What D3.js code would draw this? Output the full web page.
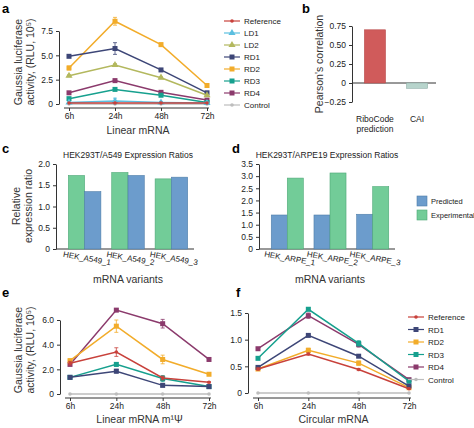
<!DOCTYPE html><html><head><meta charset="utf-8">
<script src="https://cdn.jsdelivr.net/npm/d3@7"></script>
<style>body{margin:0;background:#fff}svg{font-family:"Liberation Sans",Arial,sans-serif}</style></head><body>
<svg id="s" width="474" height="428"></svg>
<script>
const times=["6h","24h","48h","72h"];
const aNames=["Reference","LD1","LD2","RD1","RD2","RD3","RD4","Control"];
const aVals=[[0.1,0.1,0.1,0.1],[0.15,0.3,0.15,0.1],[2.9,4.0,2.7,0.9],[4.9,5.7,3.5,1.15],[3.7,8.5,6.1,1.9],[0.55,1.5,0.9,0.15],[1.15,2.4,1.2,0.4],[0,0,0,0]];
const aErr=[[0,0,0,0],[0.1,0.3,0.1,0],[0.1,0.15,0.1,0.05],[0.1,0.6,0.15,0.1],[0.2,0.4,0.15,0.15],[0.1,0.1,0.1,0],[0.1,0.15,0.1,0],[0,0,0,0]];
const aTicks=[0,2.5,5.0,7.5];
const bCats=["RiboCode\nprediction","CAI"];
const bVals=[0.70,-0.07];
const bTicks=[-0.25,0,0.25,0.50,0.75];
const cCats=["HEK_A549_1","HEK_A549_2","HEK_A549_3"];
const cExp=[1.73,1.80,1.65], cPred=[1.35,1.73,1.69];
const cTicks=[0,0.5,1.0,1.5,2.0];
const dCats=["HEK_ARPE_1","HEK_ARPE_2","HEK_ARPE_3"];
const dPred=[1.40,1.40,1.43], dExp=[2.92,3.13,2.57];
const dTicks=[0,0.5,1.0,1.5,2.0,2.5,3.0,3.5];
const eNames=["Reference","RD1","RD2","RD3","RD4","Control"];
const eVals=[[2.5,3.4,1.3,0.95],[1.35,1.85,0.7,0.6],[2.7,5.5,2.8,1.6],[1.35,2.4,1.25,0.6],[2.4,6.8,5.7,2.8],[0,0,0,0]];
const eErr=[[0.15,0.35,0.15,0.05],[0.1,0.15,0.1,0.05],[0.15,0.5,0.35,0.1],[0.1,0.15,0.25,0.1],[0.1,0.1,0.35,0.1],[0,0,0,0]];
const eTicks=[0,2.0,4.0,6.0];
const fVals=[[0.45,0.73,0.44,0.08],[0.48,1.08,0.69,0.13],[0.45,0.80,0.56,0.10],[0.65,1.57,0.93,0.22],[0.83,1.45,0.91,0.25],[0,0,0,0]];
const fErr=[[0.02,0.02,0.02,0.01],[0.02,0.02,0.02,0.01],[0.02,0.04,0.04,0.01],[0.02,0.03,0.05,0.02],[0.02,0.05,0.05,0.02],[0,0,0,0]];
const fTicks=[0,0.5,1.0,1.5];

const col={Reference:"#c8413b",LD1:"#5bbfe0",LD2:"#b3b85e",RD1:"#3d4677",RD2:"#f2ac2a",RD3:"#16a08e",RD4:"#8b3a6c",Control:"#bdbdbd"};
const shape={Reference:"dot",LD1:"tri",LD2:"tri",Control:"dot"};
const svg=d3.select("#s");
const AX="#333";
function yAxis(g,y,ticks,x,fmt){
  const a=g.append("g").attr("transform",`translate(${x},0)`).call(d3.axisLeft(y).tickValues(ticks).tickFormat(fmt).tickSize(3).tickSizeOuter(0));
  a.selectAll("text").attr("font-size",8.5).attr("fill","#222");a.selectAll("line,path").attr("stroke",AX);return a;}
function letter(t,x,y){svg.append("text").attr("x",x).attr("y",y).text(t).attr("font-weight","bold").attr("font-size",13);}
function marker(g,name,x,y){
  const c=col[name],s=shape[name]||"sq";
  if(s==="sq")g.append("rect").attr("x",x-2.5).attr("y",y-2.5).attr("width",5).attr("height",5).attr("fill",c);
  else if(s==="tri")g.append("path").attr("d",d3.symbol(d3.symbolTriangle,22)()).attr("transform",`translate(${x},${y})`).attr("fill",c);
  else g.append("circle").attr("cx",x).attr("cy",y).attr("r",1.8).attr("fill",c);}
function linePanel(names,vals,errs,x,y,ticks,fmt,xAxisY,xtitle,xlab){
  const g=svg.append("g");
  yAxis(g,y,ticks,x.range()[0]-10,fmt);
  const ax=g.append("g").attr("transform",`translate(0,${xAxisY})`).call(d3.axisBottom(x).tickSize(3).tickPadding(2));
  ax.select("path").attr("d",`M${x.range()[0]-5},0H${x.range()[1]+2}`).attr("stroke",AX);
  ax.selectAll("line").attr("stroke",AX);ax.selectAll("text").attr("font-size",8.5).attr("fill","#222");
  g.append("text").attr("x",(x.range()[0]+x.range()[1])/2).attr("y",xlab).attr("text-anchor","middle").attr("font-size",10.5).attr("fill","#333").text(xtitle);
  const order=names.map((n,i)=>i).reverse();
  order.forEach(i=>{const n=names[i];
    g.append("path").datum(vals[i]).attr("fill","none").attr("stroke",col[n]).attr("stroke-width",1.5)
     .attr("d",d3.line().x((d,j)=>x(times[j])).y(d=>y(d)));
    vals[i].forEach((v,j)=>{const e=errs[i][j];if(e>0){g.append("path").attr("stroke",col[n]).attr("stroke-width",0.8).attr("fill","none")
      .attr("d",`M${x(times[j])},${y(v-e)}V${y(v+e)}M${x(times[j])-2},${y(v+e)}h4M${x(times[j])-2},${y(v-e)}h4`);}
      marker(g,n,x(times[j]),y(v));});
  });
  return g;}
function legend(names,x0,y0,dy){names.forEach((n,i)=>{const y=y0+i*dy;const g=svg.append("g");
  g.append("line").attr("x1",x0).attr("x2",x0+16).attr("y1",y).attr("y2",y).attr("stroke",col[n]).attr("stroke-width",1.2);
  marker(g,n,x0+8,y);g.append("text").attr("x",x0+20).attr("y",y+3).attr("font-size",8).attr("fill","#222").text(n);});}
function ylab(lines,x,y){const t=svg.append("text").attr("transform",`translate(${x},${y}) rotate(-90)`).attr("text-anchor","middle").attr("font-size",10.5).attr("fill","#333");
  lines.forEach((l,i)=>t.append("tspan").attr("x",0).attr("dy",i?12:0).text(l));}

// a
letter("a",2,13);
{const x=d3.scalePoint().domain(times).range([69,207]);const y=d3.scaleLinear().domain([0,7.5]).range([104,31]);
 linePanel(aNames,aVals,aErr,x,y,aTicks,d=>d===0?"0":d3.format(".1f")(d),108,"Linear mRNA",134);
 ylab(["Gaussia luciferase","activity, (RLU, 10\u2075)"],22,62);
 legend(aNames,224,21,12);}
// b
letter("b",302,13);
{const y=d3.scaleLinear().domain([-0.25,0.75]).range([102,26]);const x=d3.scaleBand().domain(bCats).range([356,436]).paddingInner(0.5).paddingOuter(0.2);
 const g=svg.append("g");yAxis(g,y,bTicks,352,d=>d===0?"0":d3.format(".2f")(d));
 g.append("line").attr("x1",352).attr("x2",436).attr("y1",y(0)).attr("y2",y(0)).attr("stroke",AX);
 const bc=["#d05b5b","#b7d4cc"],bs=["#b84a4a","#8fb0a8"];
 bCats.forEach((c,i)=>g.append("rect").attr("x",x(c)).attr("width",x.bandwidth()).attr("y",y(Math.max(0,bVals[i]))).attr("height",Math.abs(y(bVals[i])-y(0))).attr("fill",bc[i]).attr("stroke",bs[i]).attr("stroke-width",0.6));
 bCats.forEach(c=>{const t=g.append("text").attr("text-anchor","middle").attr("font-size",8.5).attr("fill","#222");c.split("\n").forEach((l,i)=>t.append("tspan").attr("x",x(c)+x.bandwidth()/2).attr("y",122+i*10).text(l));});
 ylab(["Pearson's correlation"],323,64);}
// c & d
function barPanel(cats,s1,s2,c1,c2,yMax,ticks,x0,x1,title,titleX){
  const y=d3.scaleLinear().domain([0,yMax]).range([249,164]);
  const x=d3.scaleBand().domain(cats).range([x0,x1]).paddingInner(0.25).paddingOuter(0.1);
  const g=svg.append("g");yAxis(g,y,ticks,x0-8,d=>d===0?"0":d3.format(".1f")(d));
  g.append("line").attr("x1",x0-8).attr("x2",x1+2).attr("y1",249).attr("y2",249).attr("stroke",AX);
  const w=x.bandwidth()/2;
  cats.forEach((c,i)=>{[[s1,c1],[s2,c2]].forEach(([s,cc],k)=>g.append("rect").attr("x",x(c)+k*w).attr("width",w).attr("y",y(s[i])).attr("height",249-y(s[i])).attr("fill",cc[0]).attr("stroke",cc[1]).attr("stroke-width",0.6));
    g.append("text").attr("transform",`translate(${x(c)+x.bandwidth()/2+2},${261}) rotate(10)`).attr("text-anchor","middle").attr("font-size",8).attr("fill","#222").text(c);});
  g.append("text").attr("x",(x0+x1)/2).attr("y",283).attr("text-anchor","middle").attr("font-size",10.5).attr("fill","#333").text("mRNA variants");
  g.append("text").attr("x",titleX).attr("y",158).attr("text-anchor","middle").attr("font-size",8.5).attr("fill","#222").text(title);}
const GR=["#72cc98","#4ea877"],BL=["#6c9ccc","#4f7ea9"];
letter("c",2,153);
barPanel(cCats,cExp,cPred,GR,BL,2.0,cTicks,64,192,"HEK293T/A549 Expression Ratios",128);
ylab(["Relative","expression ratio"],20,206);
letter("d",232,153);
barPanel(dCats,dPred,dExp,BL,GR,3.5,dTicks,267,393,"HEK293T/ARPE19 Expression Ratios",327);
[["Predicted",BL,202],["Experimental",GR,216]].forEach(([t,c,yy])=>{svg.append("rect").attr("x",417).attr("y",yy-6).attr("width",10).attr("height",10).attr("fill",c[0]).attr("stroke",c[1]).attr("stroke-width",0.6);
  svg.append("text").attr("x",431).attr("y",yy+2).attr("font-size",7.5).attr("fill","#222").text(t);});
// e
letter("e",2,297);
{const x=d3.scalePoint().domain(times).range([70,209]);const y=d3.scaleLinear().domain([0,6]).range([394,320]);
 linePanel(eNames,eVals,eErr,x,y,eTicks,d=>d===0?"0":d3.format(".1f")(d),398,"Linear mRNA m\u00b9\u03a8",423);
 ylab(["Gaussia luciferase","activity, (RLU, 10\u2075)"],22,350);}
// f
letter("f",236,297);
{const x=d3.scalePoint().domain(times).range([258,409]);const y=d3.scaleLinear().domain([0,1.5]).range([393,313]);
 linePanel(eNames,fVals,fErr,x,y,fTicks,d=>d===0?"0":d3.format(".1f")(d),398,"Circular mRNA",423);
 legend(eNames,408,317,12.5);}
</script></body></html>
